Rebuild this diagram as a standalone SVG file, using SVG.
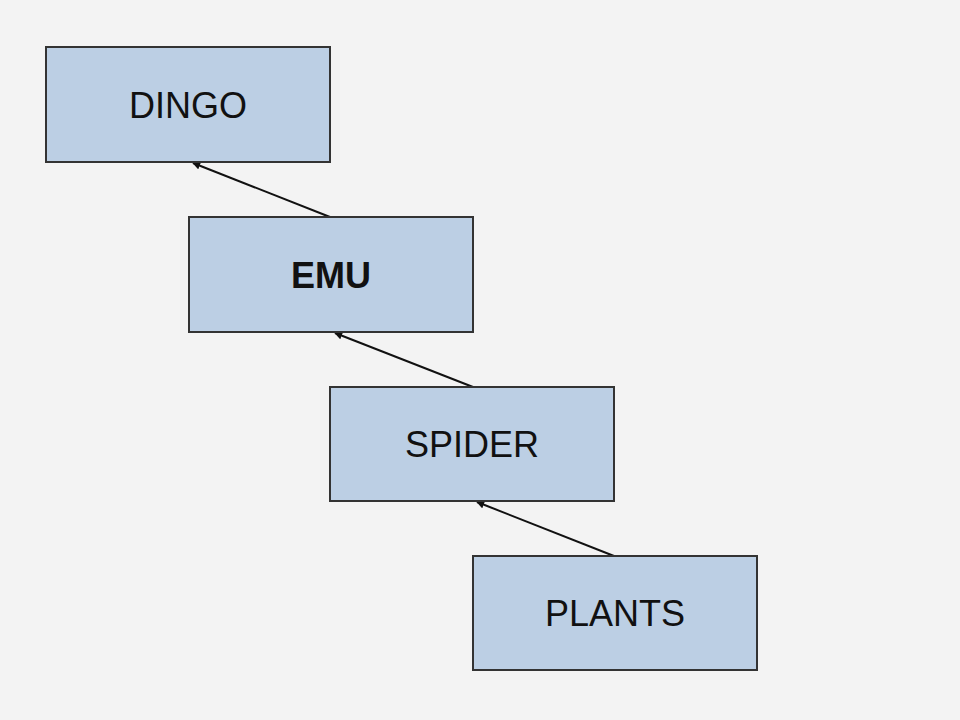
<svg xmlns="http://www.w3.org/2000/svg" width="960" height="720" viewBox="0 0 960 720">
<defs>
<marker id="ah" viewBox="0 0 10 10" refX="9" refY="5" markerWidth="8" markerHeight="8" markerUnits="userSpaceOnUse" orient="auto"><path d="M0,0 L10,5 L0,10 z" fill="#111"/></marker>
<style>
.box{fill:#bccfe4;stroke:#333;stroke-width:2}
.lbl{font-family:"Liberation Sans",Arial,sans-serif;font-size:36px;fill:#111;text-anchor:middle;dominant-baseline:central}
.con{stroke:#111;stroke-width:2;fill:none;marker-end:url(#ah)}
</style>
</defs>
<rect width="960" height="720" fill="#f3f3f3"/>
<g id="connectors">
<line class="con" x1="330" y1="217" x2="193" y2="163"/>
<line class="con" x1="473" y1="387" x2="335" y2="333"/>
<line class="con" x1="614" y1="556" x2="477" y2="502"/>
</g>
<g id="dingo"><rect class="box" x="46" y="47" width="284" height="115"/><text class="lbl" x="188" y="105">DINGO</text></g>
<g id="emu"><rect class="box" x="189" y="217" width="284" height="115"/><text class="lbl" x="331" y="275" font-weight="bold">EMU</text></g>
<g id="spider"><rect class="box" x="330" y="387" width="284" height="114"/><text class="lbl" x="472" y="444">SPIDER</text></g>
<g id="plants"><rect class="box" x="473" y="556" width="284" height="114"/><text class="lbl" x="615" y="613">PLANTS</text></g>
</svg>
